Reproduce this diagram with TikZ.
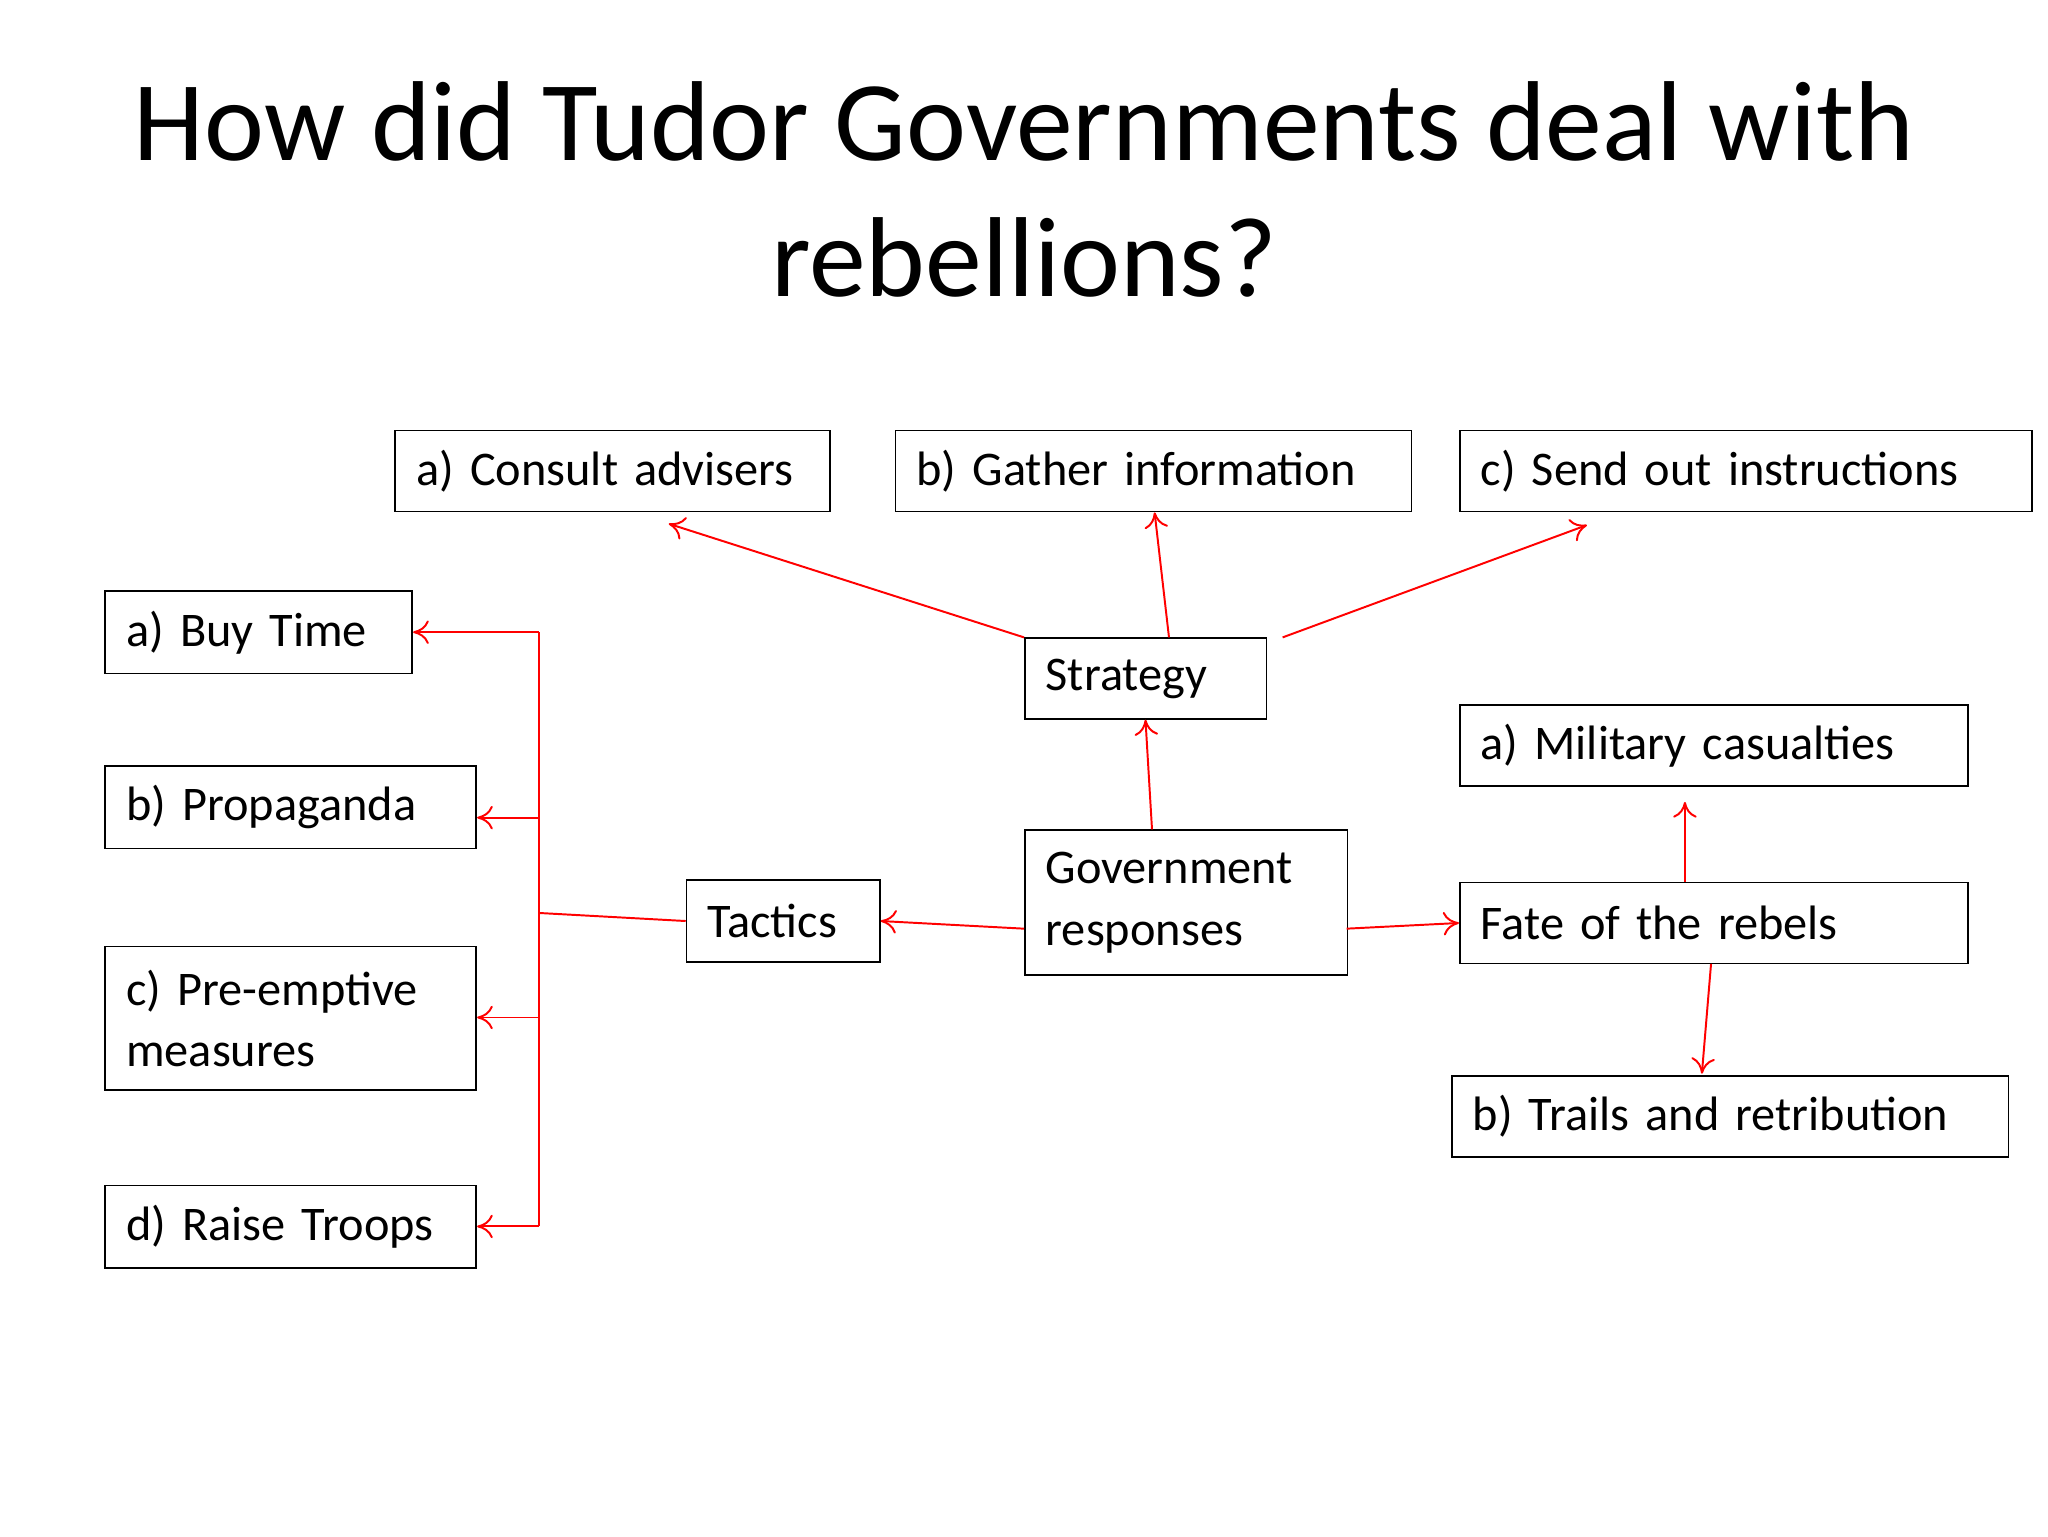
\documentclass[tikz,border=0pt]{standalone}
\usepackage{fontspec}
\setmainfont{Carlito}
\usetikzlibrary{arrows.meta}
\begin{document}
\begin{tikzpicture}[x=1pt,y=-1pt,
  bx/.style={draw,line width=1.3pt,anchor=north west,inner xsep=16pt,inner ysep=0pt,align=left,font=\fontsize{37}{47}\selectfont},
  con/.style={draw=red,line width=1.5pt},
  arr/.style={con,-{To[length=12pt,width=18pt,line width=1.5pt]}}]
\useasboundingbox[fill=white] (0,0) rectangle (1568,1176);
\node[font=\fontsize{87}{104}\selectfont,align=center] (title) at (784,145) {How did Tudor Governments deal with\\rebellions?};
\newcommand{\bx}[6]{\node[bx,text width={#4-#2-32pt},minimum height={#5-#3}] (#1) at (#2,#3) {#6};}
\bx{consult}{302}{329}{635}{391}{a) Consult advisers}
\bx{gather}{685}{329}{1080}{391}{b) Gather information}
\bx{send}{1117}{329}{1555}{391}{c) Send out instructions}
\bx{strat}{784}{488}{969}{550}{Strategy}
\bx{buy}{80}{452}{315}{515}{a) Buy Time}
\bx{prop}{80}{586}{364}{649}{b) Propaganda}
\bx{pre}{80}{724}{364}{834}{c) Pre-emptive\\measures}
\bx{raise}{80}{907}{364}{970}{d) Raise Troops}
\bx{tact}{525}{673}{673}{736}{Tactics}
\bx{gov}{784}{635}{1031}{746}{Government\\responses}
\bx{mil}{1117}{539}{1506}{601}{a) Military casualties}
\bx{fate}{1117}{675}{1506}{737}{Fate of the rebels}
\bx{trail}{1111}{823}{1537}{885}{b) Trails and retribution}
\coordinate (ca) at (512,401);
\coordinate (sa) at (1215,402);
\coordinate (s3) at (982,488);
\coordinate (ma) at (1290,614);
\coordinate (j) at (413,699);
\coordinate (jt) at (413,484);
\coordinate (jb) at (413,939);
\draw[arr] (strat.north west) -- (ca);
\draw[arr] (895,488) -- (gather.south -| 884,0);
\draw[arr] (s3) -- (sa);
\draw[arr] (882,635) -- (877,551);
\draw[arr] (784,711) -- (tact.east);
\draw[arr] (1031,711) -- (fate.west);
\draw[arr] (1290,675) -- (ma);
\draw[arr] (1310,738) -- (1303,822);
\draw[con] (tact.west) -- (j);
\draw[con] (jt) -- (jb);
\draw[arr] (jt) -- (buy.east |- jt);
\draw[arr] (413,626) -- (prop.east |- 0,626);
\draw[arr] (413,779) -- (pre.east |- 0,779);
\draw[arr] (jb) -- (raise.east |- jb);
\end{tikzpicture}
\end{document}
